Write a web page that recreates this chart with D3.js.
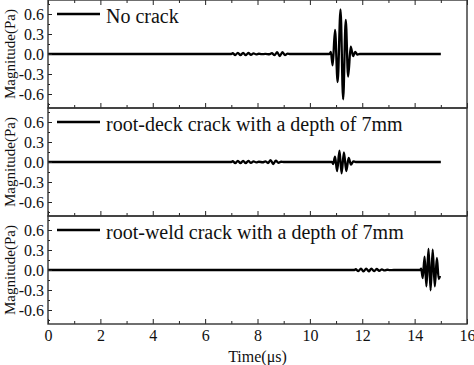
<!DOCTYPE html>
<html>
<head>
<meta charset="utf-8">
<script src="https://cdn.jsdelivr.net/npm/d3@7/dist/d3.min.js"></script>
<style>
  body { margin: 0; background: #fff; }
  text { font-family: "Liberation Serif", "Times New Roman", serif; fill: #111; }
</style>
</head>
<body>
<svg id="chart" width="474" height="365"></svg>
<script>
const svg = d3.select("#chart");

// legend labels for the three panels
const labels = ["No crack", "root-deck crack with a depth of 7mm", "root-weld crack with a depth of 7mm"];

const xTicks = [0, 2, 4, 6, 8, 10, 12, 14, 16];
const yTicks = [-0.6, -0.3, 0.0, 0.3, 0.6];

// signals: [time (us), magnitude (Pa)] at turning points
const noCrack = [
  [0, 0], [7.0, 0], [7.05, 0.012], [7.15, -0.015], [7.25, 0.018], [7.35, -0.018], [7.45, 0.018],
  [7.55, -0.018], [7.65, 0.015], [7.75, -0.012], [7.85, 0.01], [7.95, -0.006], [8.05, 0.004],
  [8.15, -0.003], [8.3, 0.002], [8.45, -0.004], [8.55, 0.012], [8.65, -0.018], [8.75, 0.026],
  [8.85, -0.03], [8.95, 0.026], [9.05, -0.016], [9.15, 0.006], [9.25, 0],
  [10.75, 0], [10.8, 0.03], [10.87, -0.17], [10.96, 0.36], [11.06, -0.42], [11.17, 0.67],
  [11.27, -0.68], [11.37, 0.51], [11.46, -0.34], [11.56, 0.11], [11.65, -0.03], [11.73, 0.03],
  [11.82, -0.01], [11.9, 0], [15.0, 0]
];

const rootDeck = [
  [0, 0], [7.0, 0], [7.05, 0.012], [7.15, -0.016], [7.25, 0.018], [7.35, -0.018], [7.45, 0.018],
  [7.55, -0.018], [7.65, 0.016], [7.75, -0.014], [7.85, 0.01], [7.95, -0.006], [8.05, 0.004],
  [8.2, -0.004], [8.3, 0.008], [8.4, -0.015], [8.5, 0.028], [8.6, -0.03], [8.7, 0.02],
  [8.8, -0.012], [8.9, 0.004], [9.0, 0],
  [10.85, 0], [10.89, -0.03], [10.96, 0.08], [11.04, -0.135], [11.13, 0.17], [11.21, -0.17],
  [11.3, 0.145], [11.39, -0.135], [11.48, 0.06], [11.57, -0.04], [11.66, 0.01], [11.75, 0], [15.0, 0]
];

const rootWeld = [
  [0, 0], [11.7, 0], [11.75, 0.012], [11.85, -0.018], [11.95, 0.02], [12.05, -0.022], [12.15, 0.022],
  [12.25, -0.02], [12.35, 0.02], [12.45, -0.018], [12.55, 0.015], [12.65, -0.012], [12.75, 0.008],
  [12.85, -0.006], [12.95, 0.004], [13.05, -0.003], [13.2, 0],
  [14.2, 0], [14.25, 0.02], [14.31, -0.12], [14.38, 0.2], [14.45, -0.245], [14.53, 0.315],
  [14.61, -0.305], [14.69, 0.305], [14.77, -0.245], [14.85, 0.18], [14.92, -0.135], [14.97, -0.09]
];

const series = [noCrack, rootDeck, rootWeld];

const left = 48, right = 467, panelH = 108;

const x = d3.scaleLinear().domain([0, 16]).range([left, right]);

const line = d3.line()
  .x(d => x(d[0]))
  .curve(d3.curveMonotoneX);

series.forEach(function (data, i) {
  const top = i * panelH;
  const y = d3.scaleLinear().domain([-0.81, 0.81]).range([top + panelH, top]);
  const g = svg.append("g");

  // waveform
  g.append("path")
    .datum(data)
    .attr("fill", "none")
    .attr("stroke", "#000")
    .attr("stroke-width", 2.3)
    .attr("stroke-linejoin", "round")
    .attr("d", line.y(d => y(d[1])));

  // y axis, major ticks inward
  const yAxis = g.append("g")
    .attr("transform", `translate(${left},0)`)
    .call(d3.axisLeft(y).tickValues(yTicks).tickSize(-4).tickPadding(4)
      .tickFormat(d3.format(".1f")));
  yAxis.select(".domain").remove();
  yAxis.selectAll("text").style("font-size", "16px").text(d => d3.format(".1f")(d).replace("−", "-"));

  // y minor ticks
  const yMinor = g.append("g")
    .attr("transform", `translate(${left},0)`)
    .call(d3.axisLeft(y).tickValues([-0.75, -0.45, -0.15, 0.15, 0.45, 0.75]).tickSize(-2).tickFormat(""));
  yMinor.select(".domain").remove();

  // bottom x ticks (inward)
  const xAxis = g.append("g")
    .attr("transform", `translate(0,${top + panelH})`)
    .call(d3.axisBottom(x).tickValues(xTicks).tickSize(-5).tickPadding(6)
      .tickFormat(i === 2 ? d3.format("d") : ""));
  xAxis.select(".domain").remove();
  xAxis.selectAll("text").style("font-size", "16px");

  const xMinor = g.append("g")
    .attr("transform", `translate(0,${top + panelH})`)
    .call(d3.axisBottom(x).tickValues(d3.range(1, 16, 2)).tickSize(-3).tickFormat(""));
  xMinor.select(".domain").remove();

  if (i === 0) {
    const xTop = g.append("g")
      .attr("transform", `translate(0,${top})`)
      .call(d3.axisTop(x).tickValues(xTicks).tickSize(-5).tickFormat(""));
    xTop.select(".domain").remove();
    const xTopMinor = g.append("g")
      .attr("transform", `translate(0,${top})`)
      .call(d3.axisTop(x).tickValues(d3.range(1, 16, 2)).tickSize(-3).tickFormat(""));
    xTopMinor.select(".domain").remove();
  }

  g.selectAll(".tick line").attr("stroke", "#222");

  // frame
  g.append("rect")
    .attr("x", left)
    .attr("y", top)
    .attr("width", right - left)
    .attr("height", panelH)
    .attr("fill", "none")
    .attr("stroke", "#333")
    .attr("stroke-width", 1.4);

  // legend
  g.append("line")
    .attr("x1", 57).attr("x2", 100)
    .attr("y1", y(0.6)).attr("y2", y(0.6))
    .attr("stroke", "#000")
    .attr("stroke-width", 2.6);
  g.append("text")
    .attr("x", 106)
    .attr("y", top + 23)
    .style("font-size", "20px")
    .text(labels[i]);

  // y title
  g.append("text")
    .attr("transform", `translate(15,${top + panelH / 2}) rotate(-90)`)
    .attr("text-anchor", "middle")
    .style("font-size", "15px")
    .text("Magnitude(Pa)");
});

svg.append("text")
  .attr("x", x(8))
  .attr("y", 362)
  .attr("text-anchor", "middle")
  .style("font-size", "16px")
  .text("Time(μs)");
</script>
</body>
</html>
